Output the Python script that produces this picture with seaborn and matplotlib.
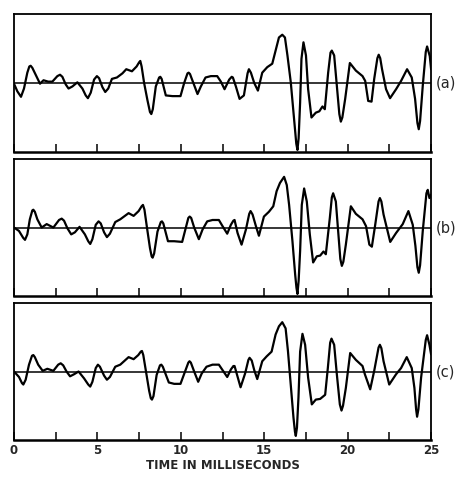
import numpy as np
import pandas as pd
import matplotlib
matplotlib.use("Agg")
import matplotlib.pyplot as plt
import seaborn as sns

t_a = [0.0, 0.2, 0.42, 0.6, 0.8, 0.92, 1.0, 1.1, 1.3, 1.56, 1.77, 2.05, 2.3, 2.6, 2.76, 2.9, 3.1, 3.27, 3.5,
       3.8, 4.1, 4.3, 4.43, 4.6, 4.8, 4.97, 5.1, 5.3, 5.47, 5.65, 5.87, 6.17, 6.5, 6.73, 7.07, 7.35, 7.5, 7.57,
       7.65, 7.8, 8.0, 8.15, 8.23, 8.32, 8.5, 8.7, 8.77, 8.85, 9.1, 9.5, 9.98, 10.2, 10.4, 10.47, 10.55, 10.75,
       11.0, 11.2, 11.48, 11.8, 12.18, 12.4, 12.62, 12.9, 13.05, 13.12, 13.3, 13.52, 13.78, 14.0, 14.08, 14.2,
       14.4, 14.62, 14.88, 15.18, 15.48, 15.68, 15.88, 16.08, 16.24, 16.39, 16.59, 16.79, 16.92, 16.99, 17.06,
       17.15, 17.23, 17.35, 17.5, 17.63, 17.83, 18.09, 18.3, 18.49, 18.63, 18.83, 18.97, 19.05, 19.19, 19.35,
       19.5, 19.59, 19.68, 19.85, 20.13, 20.49, 20.89, 21.05, 21.23, 21.43, 21.59, 21.78, 21.86, 21.95, 22.06,
       22.3, 22.54, 22.9, 23.2, 23.56, 23.84, 24.04, 24.18, 24.26, 24.34, 24.5, 24.68, 24.76, 24.92, 25.0]
v_a = [-0.01, -0.12, -0.20, -0.08, 0.15, 0.24, 0.25, 0.22, 0.12, -0.01, 0.04, 0.02, 0.02, 0.10, 0.12, 0.09,
       -0.02, -0.08, -0.05, 0.01, -0.08, -0.18, -0.22, -0.14, 0.05, 0.10, 0.07, -0.06, -0.13, -0.08, 0.06, 0.08,
       0.14, 0.20, 0.17, 0.24, 0.30, 0.32, 0.24, 0.0, -0.25, -0.42, -0.45, -0.38, -0.05, 0.08, 0.09, 0.06, -0.18,
       -0.19, -0.19, 0.0, 0.14, 0.15, 0.13, 0.0, -0.16, -0.05, 0.08, 0.10, 0.10, 0.02, -0.09, 0.05, 0.09, 0.08,
       -0.05, -0.23, -0.18, 0.14, 0.20, 0.15, 0.0, -0.11, 0.15, 0.23, 0.28, 0.47, 0.66, 0.70, 0.66, 0.40, 0.01,
       -0.52, -0.88, -0.97, -0.80, -0.28, 0.35, 0.59, 0.40, -0.09, -0.50, -0.43, -0.41, -0.34, -0.38, 0.15,
       0.44, 0.47, 0.40, -0.04, -0.45, -0.56, -0.50, -0.23, 0.29, 0.18, 0.10, 0.03, -0.26, -0.27, 0.06, 0.36,
       0.41, 0.36, 0.20, -0.09, -0.22, -0.09, 0.03, 0.20, 0.08, -0.23, -0.58, -0.67, -0.55, -0.04, 0.45, 0.53,
       0.39, 0.20]

t_b = [0.0, 0.3, 0.55, 0.66, 0.8, 0.95, 1.1, 1.16, 1.25, 1.4, 1.66, 1.96, 2.36, 2.7, 2.86, 3.0, 3.2, 3.43,
       3.65, 3.93, 4.25, 4.45, 4.57, 4.7, 4.9, 5.07, 5.2, 5.4, 5.57, 5.75, 6.07, 6.37, 6.87, 7.17, 7.47, 7.65,
       7.73, 7.82, 7.97, 8.15, 8.25, 8.31, 8.4, 8.6, 8.8, 8.87, 8.95, 9.23, 9.6, 10.08, 10.3, 10.45, 10.53,
       10.62, 10.8, 11.08, 11.3, 11.58, 11.9, 12.28, 12.5, 12.78, 13.0, 13.15, 13.22, 13.4, 13.64, 13.9, 14.1,
       14.18, 14.3, 14.5, 14.68, 14.98, 15.28, 15.54, 15.74, 15.94, 16.19, 16.35, 16.49, 16.69, 16.85, 16.93,
       16.99, 17.06, 17.15, 17.25, 17.39, 17.55, 17.73, 17.93, 18.15, 18.35, 18.55, 18.69, 18.93, 19.05, 19.13,
       19.29, 19.43, 19.56, 19.65, 19.74, 19.89, 20.19, 20.49, 20.89, 21.1, 21.3, 21.45, 21.65, 21.85, 21.93,
       22.02, 22.15, 22.55, 22.9, 23.3, 23.64, 23.9, 24.06, 24.18, 24.26, 24.34, 24.5, 24.72, 24.8, 24.9,
       25.0]
v_b = [0.0, -0.05, -0.15, -0.18, -0.10, 0.12, 0.25, 0.26, 0.23, 0.12, 0.0, 0.05, 0.0, 0.11, 0.13, 0.10,
       -0.01, -0.10, -0.07, 0.01, -0.10, -0.20, -0.24, -0.17, 0.04, 0.09, 0.06, -0.07, -0.14, -0.09, 0.08, 0.12,
       0.21, 0.17, 0.24, 0.31, 0.33, 0.26, 0.0, -0.30, -0.42, -0.44, -0.38, -0.06, 0.08, 0.09, 0.06, -0.20,
       -0.20, -0.21, 0.0, 0.14, 0.16, 0.14, 0.0, -0.17, -0.03, 0.09, 0.11, 0.11, 0.02, -0.09, 0.04, 0.10, 0.11,
       -0.08, -0.25, -0.03, 0.20, 0.24, 0.19, 0.02, -0.12, 0.16, 0.23, 0.31, 0.53, 0.65, 0.74, 0.62, 0.33,
       -0.20, -0.68, -0.88, -0.97, -0.78, -0.34, 0.33, 0.57, 0.38, -0.10, -0.51, -0.42, -0.41, -0.35, -0.39,
       0.14, 0.44, 0.50, 0.38, -0.05, -0.46, -0.56, -0.50, -0.25, 0.31, 0.20, 0.12, 0.02, -0.25, -0.28, 0.04,
       0.38, 0.43, 0.38, 0.19, -0.21, -0.08, 0.05, 0.24, 0.04, -0.27, -0.58, -0.66, -0.55, -0.05, 0.50, 0.55,
       0.43, 0.48]

t_c = [0.0, 0.3, 0.48, 0.56, 0.7, 0.9, 1.08, 1.16, 1.25, 1.45, 1.72, 2.0, 2.36, 2.65, 2.80, 2.95, 3.15, 3.36,
       3.6, 3.87, 4.2, 4.45, 4.57, 4.7, 4.9, 5.03, 5.15, 5.4, 5.57, 5.75, 6.07, 6.37, 6.87, 7.17, 7.45, 7.6,
       7.67, 7.75, 7.91, 8.1, 8.2, 8.27, 8.36, 8.55, 8.75, 8.83, 8.92, 9.28, 9.6, 9.98, 10.25, 10.45, 10.52,
       10.6, 10.8, 11.04, 11.25, 11.54, 11.9, 12.28, 12.5, 12.78, 13.0, 13.15, 13.22, 13.38, 13.58, 13.85,
       14.05, 14.12, 14.25, 14.4, 14.58, 14.88, 15.14, 15.44, 15.68, 15.88, 16.08, 16.28, 16.42, 16.59, 16.75,
       16.84, 16.89, 16.96, 17.05, 17.15, 17.29, 17.45, 17.63, 17.85, 18.09, 18.35, 18.65, 18.81, 18.95, 19.03,
       19.19, 19.35, 19.53, 19.63, 19.72, 19.89, 20.15, 20.49, 20.89, 21.03, 21.35, 21.59, 21.85, 21.93, 22.02,
       22.15, 22.49, 22.9, 23.2, 23.54, 23.84, 24.0, 24.1, 24.16, 24.24, 24.4, 24.68, 24.76, 24.9, 25.0]
v_c = [0.0, -0.08, -0.17, -0.19, -0.12, 0.10, 0.23, 0.24, 0.21, 0.10, 0.01, 0.04, 0.01, 0.10, 0.12, 0.09,
       0.0, -0.07, -0.04, 0.0, -0.10, -0.19, -0.22, -0.15, 0.05, 0.10, 0.07, -0.06, -0.12, -0.08, 0.07, 0.10,
       0.21, 0.18, 0.24, 0.29, 0.30, 0.24, 0.0, -0.28, -0.39, -0.41, -0.36, -0.05, 0.09, 0.10, 0.07, -0.16,
       -0.18, -0.18, 0.0, 0.13, 0.15, 0.13, 0.0, -0.15, -0.03, 0.07, 0.10, 0.10, 0.02, -0.08, 0.03, 0.08, 0.08,
       -0.06, -0.23, -0.03, 0.17, 0.20, 0.16, 0.02, -0.11, 0.15, 0.22, 0.29, 0.54, 0.66, 0.72, 0.63, 0.30,
       -0.19, -0.67, -0.88, -0.94, -0.82, -0.38, 0.29, 0.55, 0.39, -0.09, -0.48, -0.41, -0.40, -0.34, 0.05,
       0.42, 0.48, 0.39, -0.04, -0.48, -0.57, -0.50, -0.24, 0.27, 0.17, 0.08, -0.04, -0.26, 0.01, 0.35, 0.39,
       0.34, 0.15, -0.19, -0.04, 0.05, 0.21, 0.05, -0.24, -0.55, -0.66, -0.55, -0.09, 0.46, 0.53, 0.39, 0.25]

panel_labels = ["(a)", "(b)", "(c)"]
major_ticks = [0, 5, 10, 15, 20, 25]
minor_ticks = [2.5, 7.5, 12.5, 17.5, 22.5]

sns.set_style("white")
plt.rcParams["font.family"] = ["DejaVu Sans"]

fig = plt.figure(figsize=(4.74, 4.79), dpi=100)
boxes = [[0.0295, 0.6827, 0.880, 0.288],
         [0.0295, 0.3820, 0.880, 0.286],
         [0.0295, 0.0814, 0.880, 0.286]]

traces = [(t_a, v_a), (t_b, v_b), (t_c, v_c)]
for i, (tt, vv) in enumerate(traces):
    ax = fig.add_axes(boxes[i])
    df = pd.DataFrame({"t": tt, "v": vv})
    ax.axhline(0, color="black", lw=1.1, zorder=1)
    sns.lineplot(data=df, x="t", y="v", ax=ax, color="black", lw=1.6,
                 sort=False, estimator=None, zorder=2,
                 solid_joinstyle="round", solid_capstyle="round")
    ax.set_xlim(0, 25)
    ax.set_ylim(-1, 1)
    ax.set_xlabel("")
    ax.set_ylabel("")
    ax.set_yticks([])
    ax.set_xticks(major_ticks)
    ax.set_xticks(minor_ticks, minor=True)
    ax.tick_params(axis="x", which="both", direction="in", length=6, width=1.1,
                   color="black", top=False, bottom=True)
    for s in ax.spines.values():
        s.set_visible(True)
        s.set_color("black")
        s.set_linewidth(1.3)
    ax.spines["bottom"].set_linewidth(1.8)
    ax.text(1.012, 0.5, panel_labels[i], transform=ax.transAxes, va="center",
            ha="left", fontsize=10.5)
    if i < 2:
        ax.set_xticklabels([])
    else:
        ax.set_xticklabels([str(m) for m in major_ticks], fontsize=8.5, fontweight="bold")
        ax.tick_params(axis="x", pad=3)
        ax.set_xlabel("TIME IN MILLISECONDS", fontsize=8.5, fontweight="semibold", labelpad=1)

fig.savefig("out.png", dpi=100, facecolor="white")
